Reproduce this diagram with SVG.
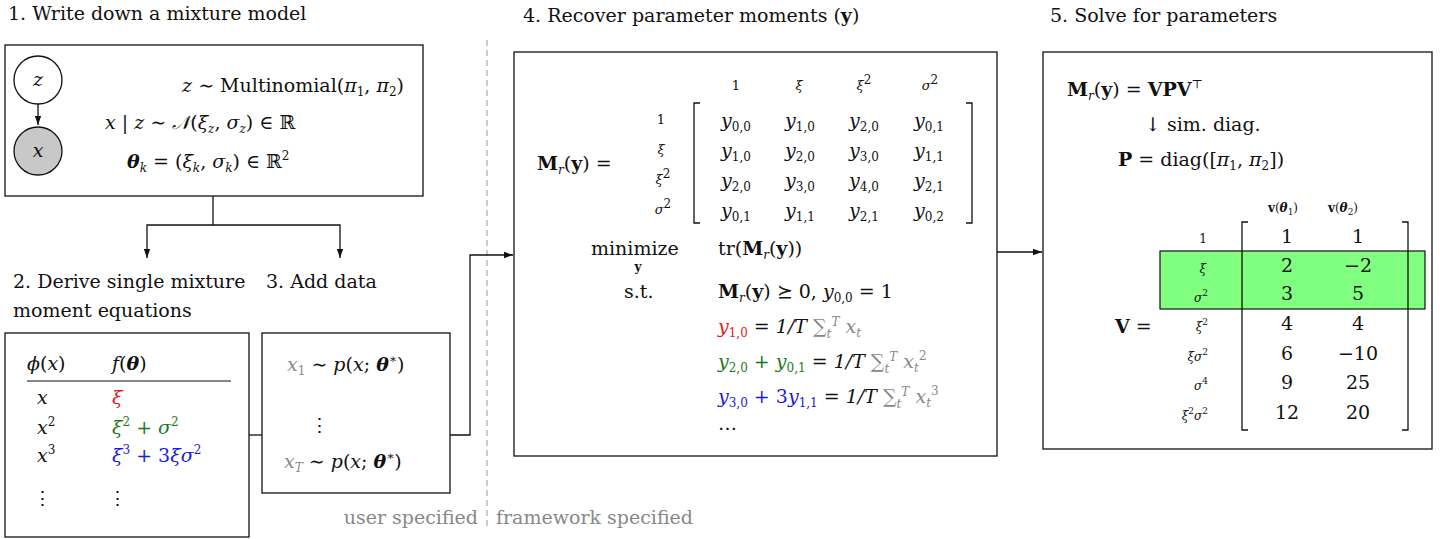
<svg xmlns="http://www.w3.org/2000/svg" width="1440" height="539" viewBox="0 0 1440 539" font-family="'DejaVu Serif', serif">
<defs>
<style>
text{font-family:'DejaVu Serif',serif;font-size:19px;fill:#111}
.i{font-style:italic}
.s{font-size:12px}
.sm{font-size:13px}
.b{font-weight:bold}
.g{fill:#888}
.r{fill:#e41a1c}
.gr{fill:#1a7a1a}
.bl{fill:#1a1adc}
.box{fill:#fff;stroke:#111;stroke-width:1.3}
.ln{fill:none;stroke:#111;stroke-width:1.3}
</style>
<marker id="ah" viewBox="0 0 10 10" refX="10" refY="5" markerWidth="7" markerHeight="7" orient="auto"><path d="M0,1.5L10,5L0,8.5z" fill="#111"/></marker>
</defs>
<rect width="1440" height="539" fill="#fff"/>

<g id="titles">
<text x="8" y="20">1. Write down a mixture model</text>
<text x="13" y="288">2. Derive single mixture</text>
<text x="13" y="317">moment equations</text>
<text x="266" y="288">3. Add data</text>
<text x="523" y="22">4. Recover parameter moments (<tspan class="b">y</tspan>)</text>
<text x="1050" y="22">5. Solve for parameters</text>
<text x="478" y="524" text-anchor="end" class="g">user specified</text>
<text x="496" y="524" class="g">framework specified</text>
</g>

<g id="connectors">
<line x1="487" y1="40" x2="487" y2="530" stroke="#999" stroke-width="1" stroke-dasharray="6,4"/>
<path class="ln" d="M213,196V225H147V258" marker-end="url(#ah)"/>
<path class="ln" d="M213,225H340V258" marker-end="url(#ah)"/>
<path class="ln" d="M249,435H262"/>
<path class="ln" d="M450,435H470V255H513" marker-end="url(#ah)"/>
<path class="ln" d="M997,252H1042" marker-end="url(#ah)"/>
</g>

<g id="model">
<rect class="box" x="5" y="45" width="418" height="151"/>
<circle cx="38" cy="80" r="24" class="box"/>
<text x="38" y="86" text-anchor="middle" class="i">z</text>
<path class="ln" d="M38,104V125" marker-end="url(#ah)"/>
<circle cx="38" cy="151" r="24" fill="#c8c8c8" stroke="#111" stroke-width="1.3"/>
<text x="38" y="157" text-anchor="middle" class="i">x</text>
<text x="404" y="92" text-anchor="end"><tspan class="i">z</tspan> ∼ Multinomial(<tspan class="i">π</tspan><tspan class="s" dy="4">1</tspan><tspan dy="-4">, </tspan><tspan class="i">π</tspan><tspan class="s" dy="4">2</tspan><tspan dy="-4">)</tspan></text>
<text x="105" y="129"><tspan class="i">x</tspan> | <tspan class="i">z</tspan> ∼ <tspan class="i">𝒩</tspan>(<tspan class="i">ξ</tspan><tspan class="s i" dy="4">z</tspan><tspan dy="-4">, </tspan><tspan class="i">σ</tspan><tspan class="s i" dy="4">z</tspan><tspan dy="-4">) ∈ ℝ</tspan></text>
<text x="127" y="168"><tspan class="b i">θ</tspan><tspan class="s i" dy="4">k</tspan><tspan dy="-4"> = (</tspan><tspan class="i">ξ</tspan><tspan class="s i" dy="4">k</tspan><tspan dy="-4">, </tspan><tspan class="i">σ</tspan><tspan class="s i" dy="4">k</tspan><tspan dy="-4">) ∈ ℝ</tspan><tspan class="s" dy="-8">2</tspan></text>
</g>

<g id="moments">
<rect class="box" x="5" y="333" width="244" height="204"/>
<text x="27" y="370"><tspan class="i">ϕ</tspan>(<tspan class="i">x</tspan>)</text>
<text x="112" y="370"><tspan class="i">f</tspan>(<tspan class="b i">θ</tspan>)</text>
<line x1="27" y1="381" x2="231" y2="381" stroke="#111" stroke-width="1.2"/>
<text x="37" y="404" class="i">x</text>
<text x="112" y="404" class="i r">ξ</text>
<text x="37" y="434"><tspan class="i">x</tspan><tspan class="s" dy="-8">2</tspan></text>
<text x="112" y="434" class="gr"><tspan class="i">ξ</tspan><tspan class="s" dy="-8">2</tspan><tspan dy="8"> + </tspan><tspan class="i">σ</tspan><tspan class="s" dy="-8">2</tspan></text>
<text x="37" y="462"><tspan class="i">x</tspan><tspan class="s" dy="-8">3</tspan></text>
<text x="112" y="462" class="bl"><tspan class="i">ξ</tspan><tspan class="s" dy="-8">3</tspan><tspan dy="8"> + 3</tspan><tspan class="i">ξσ</tspan><tspan class="s" dy="-8">2</tspan></text>
<text x="42" y="505" text-anchor="middle">⋮</text>
<text x="117" y="505" text-anchor="middle">⋮</text>
</g>

<g id="data">
<rect class="box" x="262" y="333" width="188" height="160"/>
<text x="287" y="371"><tspan class="i g">x</tspan><tspan class="s g" dy="4">1</tspan><tspan dy="-4"> ∼ </tspan><tspan class="i">p</tspan>(<tspan class="i">x</tspan>; <tspan class="b i">θ</tspan><tspan class="s" dy="-8">∗</tspan><tspan dy="8">)</tspan></text>
<text x="319" y="432" text-anchor="middle">⋮</text>
<text x="284" y="468"><tspan class="i g">x</tspan><tspan class="s i g" dy="4">T</tspan><tspan dy="-4"> ∼ </tspan><tspan class="i">p</tspan>(<tspan class="i">x</tspan>; <tspan class="b i">θ</tspan><tspan class="s" dy="-8">∗</tspan><tspan dy="8">)</tspan></text>
</g>

<g id="recover">
<rect class="box" x="514" y="52" width="483" height="404"/>
<g text-anchor="middle">
<text x="736" y="90" class="sm">1</text>
<text x="799" y="90" class="sm i">ξ</text>
<text x="864" y="90" class="sm"><tspan class="i">ξ</tspan><tspan class="s" dy="-6">2</tspan></text>
<text x="930" y="90" class="sm"><tspan class="i">σ</tspan><tspan class="s" dy="-6">2</tspan></text>
<text x="661" y="124" class="sm">1</text>
<text x="661" y="154" class="sm i">ξ</text>
<text x="663" y="184" class="sm"><tspan class="i">ξ</tspan><tspan class="s" dy="-6">2</tspan></text>
<text x="663" y="214" class="sm"><tspan class="i">σ</tspan><tspan class="s" dy="-6">2</tspan></text>
</g>
<path class="ln" stroke-width="1.8" d="M700,103H694V223H700M966,103H972V223H966"/>
<text x="537" y="170"><tspan class="b">M</tspan><tspan class="s i" dy="4">r</tspan><tspan dy="-4">(</tspan><tspan class="b">y</tspan>) =</text>
<g text-anchor="middle">
<text x="736" y="127"><tspan class="i">y</tspan><tspan class="s" dy="4">0,0</tspan></text>
<text x="800" y="127"><tspan class="i">y</tspan><tspan class="s" dy="4">1,0</tspan></text>
<text x="864" y="127"><tspan class="i">y</tspan><tspan class="s" dy="4">2,0</tspan></text>
<text x="929" y="127"><tspan class="i">y</tspan><tspan class="s" dy="4">0,1</tspan></text>
<text x="736" y="157"><tspan class="i">y</tspan><tspan class="s" dy="4">1,0</tspan></text>
<text x="800" y="157"><tspan class="i">y</tspan><tspan class="s" dy="4">2,0</tspan></text>
<text x="864" y="157"><tspan class="i">y</tspan><tspan class="s" dy="4">3,0</tspan></text>
<text x="929" y="157"><tspan class="i">y</tspan><tspan class="s" dy="4">1,1</tspan></text>
<text x="736" y="187"><tspan class="i">y</tspan><tspan class="s" dy="4">2,0</tspan></text>
<text x="800" y="187"><tspan class="i">y</tspan><tspan class="s" dy="4">3,0</tspan></text>
<text x="864" y="187"><tspan class="i">y</tspan><tspan class="s" dy="4">4,0</tspan></text>
<text x="929" y="187"><tspan class="i">y</tspan><tspan class="s" dy="4">2,1</tspan></text>
<text x="736" y="217"><tspan class="i">y</tspan><tspan class="s" dy="4">0,1</tspan></text>
<text x="800" y="217"><tspan class="i">y</tspan><tspan class="s" dy="4">1,1</tspan></text>
<text x="864" y="217"><tspan class="i">y</tspan><tspan class="s" dy="4">2,1</tspan></text>
<text x="929" y="217"><tspan class="i">y</tspan><tspan class="s" dy="4">0,2</tspan></text>
</g>
<text x="591" y="255">minimize</text>
<text x="638" y="271" text-anchor="middle" class="s b">y</text>
<text x="624" y="298">s.t.</text>
<text x="718" y="255">tr(<tspan class="b">M</tspan><tspan class="s i" dy="4">r</tspan><tspan dy="-4">(</tspan><tspan class="b">y</tspan>))</text>
<text x="718" y="298"><tspan class="b">M</tspan><tspan class="s i" dy="4">r</tspan><tspan dy="-4">(</tspan><tspan class="b">y</tspan>) ⪰ 0,  <tspan class="i">y</tspan><tspan class="s" dy="4">0,0</tspan><tspan dy="-4"> = 1</tspan></text>
<text x="718" y="333"><tspan class="i r">y</tspan><tspan class="s r" dy="4">1,0</tspan><tspan dy="-4"> = </tspan><tspan class="i">1/T</tspan><tspan class="g"> ∑</tspan><tspan class="s i g" dy="5">t</tspan><tspan class="s i g" dy="-12">T</tspan><tspan class="i g" dy="7"> x</tspan><tspan class="s i g" dy="4">t</tspan></text>
<text x="718" y="368"><tspan class="i gr">y</tspan><tspan class="s gr" dy="4">2,0</tspan><tspan dy="-4" class="gr"> + </tspan><tspan class="i gr">y</tspan><tspan class="s gr" dy="4">0,1</tspan><tspan dy="-4"> = </tspan><tspan class="i">1/T</tspan><tspan class="g"> ∑</tspan><tspan class="s i g" dy="5">t</tspan><tspan class="s i g" dy="-12">T</tspan><tspan class="i g" dy="7"> x</tspan><tspan class="s i g" dy="4">t</tspan><tspan class="s g" dy="-12">2</tspan></text>
<text x="718" y="403"><tspan class="i bl">y</tspan><tspan class="s bl" dy="4">3,0</tspan><tspan dy="-4" class="bl"> + 3</tspan><tspan class="i bl">y</tspan><tspan class="s bl" dy="4">1,1</tspan><tspan dy="-4"> = </tspan><tspan class="i">1/T</tspan><tspan class="g"> ∑</tspan><tspan class="s i g" dy="5">t</tspan><tspan class="s i g" dy="-12">T</tspan><tspan class="i g" dy="7"> x</tspan><tspan class="s i g" dy="4">t</tspan><tspan class="s g" dy="-12">3</tspan></text>
<text x="718" y="430">…</text>
</g>

<g id="solve">
<rect class="box" x="1043" y="52" width="389" height="397"/>
<rect x="1160" y="251" width="265" height="58" fill="#80ff80" stroke="#111" stroke-width="1.2"/>
<text x="1067" y="96"><tspan class="b">M</tspan><tspan class="s i" dy="4">r</tspan><tspan dy="-4">(</tspan><tspan class="b">y</tspan>) = <tspan class="b">VPV</tspan><tspan class="s" dy="-8">⊤</tspan></text>
<text x="1145" y="131">↓ sim. diag.</text>
<text x="1118" y="166"><tspan class="b">P</tspan> = diag([<tspan class="i">π</tspan><tspan class="s" dy="4">1</tspan><tspan dy="-4">, </tspan><tspan class="i">π</tspan><tspan class="s" dy="4">2</tspan><tspan dy="-4">])</tspan></text>
<text x="1115" y="333"><tspan class="b">V</tspan> =</text>
<g text-anchor="middle">
<text x="1283" y="212" class="s"><tspan class="b">v</tspan>(<tspan class="b i">θ</tspan><tspan dy="3" font-size="9">1</tspan><tspan dy="-3">)</tspan></text>
<text x="1343" y="212" class="s"><tspan class="b">v</tspan>(<tspan class="b i">θ</tspan><tspan dy="3" font-size="9">2</tspan><tspan dy="-3">)</tspan></text>
</g>
<g text-anchor="end">
<text x="1207" y="243" class="s">1</text>
<text x="1206" y="273" class="s i">ξ</text>
<text x="1208" y="302" class="s"><tspan class="i">σ</tspan><tspan font-size="9" dy="-6">2</tspan></text>
<text x="1208" y="331" class="s"><tspan class="i">ξ</tspan><tspan font-size="9" dy="-6">2</tspan></text>
<text x="1208" y="361" class="s"><tspan class="i">ξσ</tspan><tspan font-size="9" dy="-6">2</tspan></text>
<text x="1208" y="390" class="s"><tspan class="i">σ</tspan><tspan font-size="9" dy="-6">4</tspan></text>
<text x="1208" y="420" class="s"><tspan class="i">ξ</tspan><tspan font-size="9" dy="-6">2</tspan><tspan class="i" dy="6">σ</tspan><tspan font-size="9" dy="-6">2</tspan></text>
</g>
<path class="ln" stroke-width="1.8" d="M1248,222H1242V430H1248M1402,222H1408V430H1402"/>
<g text-anchor="middle">
<text x="1287" y="243">1</text><text x="1358" y="243">1</text>
<text x="1287" y="272">2</text><text x="1358" y="272">−2</text>
<text x="1287" y="300">3</text><text x="1358" y="300">5</text>
<text x="1287" y="330">4</text><text x="1358" y="330">4</text>
<text x="1287" y="360">6</text><text x="1358" y="360">−10</text>
<text x="1287" y="389">9</text><text x="1358" y="389">25</text>
<text x="1287" y="419">12</text><text x="1358" y="419">20</text>
</g>
</g>
</svg>
